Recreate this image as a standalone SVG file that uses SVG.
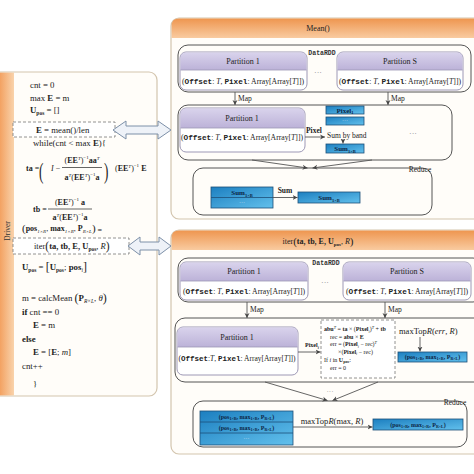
<svg xmlns="http://www.w3.org/2000/svg" width="474" height="474" viewBox="0 0 474 474" style="font-family:'Liberation Serif','Times New Roman',serif;font-size:8px;fill:#222">
<style>
.m{font-family:"Liberation Mono","Courier New",monospace;font-weight:bold}
.b{font-weight:bold}
.i{font-style:italic}
.mid{text-anchor:middle}
.panel{fill:#fffdf9;stroke:#d3c5ae;stroke-width:1.2}
.rdd{fill:none;stroke:#555;stroke-width:1}
.pbox{fill:#fff;stroke:#9d98b5;stroke-width:1}
.phead{fill:url(#gp);stroke:none}
.blue{fill:url(#gb);stroke:#1d4f78;stroke-width:0.8}
.dash{fill:#fff;stroke:#777;stroke-width:0.8;stroke-dasharray:3,2}
.arr{stroke:#555;stroke-width:0.9;fill:none;marker-end:url(#ah)}
.dbl{fill:#eef2f8;stroke:#7d90a8;stroke-width:1}
.bt{fill:#0b2545;font-weight:bold}
.dots{fill:#888}
</style>
<defs>
<linearGradient id="go" x1="0" y1="0" x2="0" y2="1"><stop offset="0" stop-color="#ee9650"/><stop offset="1" stop-color="#f9cba0"/></linearGradient>
<linearGradient id="gd" x1="0" y1="0" x2="1" y2="0"><stop offset="0" stop-color="#f3a262"/><stop offset="1" stop-color="#f9d3ac"/></linearGradient>
<linearGradient id="gp" x1="0" y1="0" x2="0" y2="1"><stop offset="0" stop-color="#d9d3ec"/><stop offset="1" stop-color="#bcb2d8"/></linearGradient>
<linearGradient id="gb" x1="0" y1="0" x2="1" y2="1"><stop offset="0" stop-color="#1c7fc0"/><stop offset="1" stop-color="#62c0ec"/></linearGradient>
<marker id="ah" markerWidth="6" markerHeight="6" refX="5" refY="3" orient="auto" markerUnits="userSpaceOnUse"><path d="M0,0.5 L5,3 L0,5.5 L1.5,3 Z" fill="#444"/></marker>
</defs>

<!-- Driver panel -->
<g id="driver" font-size="8.8">
<rect x="-10" y="72" width="167" height="324" rx="8" class="panel"/>
<rect x="0" y="72.6" width="14" height="322.8" fill="url(#gd)"/>
<text transform="translate(9.5,231) rotate(-90)" class="mid" font-size="7.5" fill="#333">Driver</text>
<text x="30" y="88">cnt = 0</text>
<text x="30" y="101">max <tspan class="b">E</tspan> = m</text>
<text x="30" y="113"><tspan class="b">U</tspan><tspan class="b" font-size="5.5" dy="2">pos</tspan><tspan dy="-2"> = []</tspan></text>
<rect x="13" y="122" width="102" height="15" class="dash"/>
<text x="36" y="132.5"><tspan class="b">E</tspan> = mean()/len</text>
<text x="33" y="145.5">while(cnt &lt; max <tspan class="b">E</tspan>){</text>
<!-- ta -->
<text x="26" y="171" font-size="8"><tspan class="b">ta</tspan> =</text>
<text x="39" y="179" font-size="24" transform="translate(39,0) scale(0.55,1) translate(-39,0)">(</text>
<text x="51" y="171" font-size="8"><tspan class="i">I</tspan> −</text>
<text x="82" y="163" class="mid" font-size="8">(<tspan class="b">EE</tspan><tspan font-size="5" dy="-3" class="i">T</tspan><tspan dy="3">)</tspan><tspan font-size="5" dy="-4">−1</tspan><tspan dy="4" class="b">aa</tspan><tspan font-size="5" dy="-3" class="i">T</tspan></text>
<line x1="62" y1="167.5" x2="102" y2="167.5" stroke="#222" stroke-width="0.7"/>
<text x="82" y="180" class="mid" font-size="8"><tspan class="b">a</tspan><tspan font-size="5" dy="-3" class="i">T</tspan><tspan dy="3">(</tspan><tspan class="b">EE</tspan><tspan font-size="5" dy="-3" class="i">T</tspan><tspan dy="3">)</tspan><tspan font-size="5" dy="-4">−1</tspan><tspan dy="4" class="b">a</tspan></text>
<text x="104" y="179" font-size="24" transform="translate(104,0) scale(0.55,1) translate(-104,0)">)</text>
<text x="115" y="171" font-size="8">(<tspan class="b">EE</tspan><tspan font-size="5" dy="-3" class="i">T</tspan><tspan dy="3">)</tspan><tspan font-size="5" dy="-4">−1</tspan><tspan dy="4" class="b"> E</tspan></text>
<!-- tb -->
<text x="33" y="212" font-size="8"><tspan class="b">tb</tspan> =</text>
<text x="70" y="205" class="mid" font-size="8">(<tspan class="b">EE</tspan><tspan font-size="5" dy="-3" class="i">T</tspan><tspan dy="3">)</tspan><tspan font-size="5" dy="-4">−1</tspan><tspan dy="4" class="b"> a</tspan></text>
<line x1="48" y1="209" x2="92" y2="209" stroke="#222" stroke-width="0.7"/>
<text x="70" y="220" class="mid" font-size="8"><tspan class="b">a</tspan><tspan font-size="5" dy="-3" class="i">T</tspan><tspan dy="3">(</tspan><tspan class="b">EE</tspan><tspan font-size="5" dy="-3" class="i">T</tspan><tspan dy="3">)</tspan><tspan font-size="5" dy="-4">−1</tspan><tspan dy="4" class="b">a</tspan></text>
<!-- pos line -->
<text x="22" y="231" font-size="8"><tspan font-size="11" dy="1">(</tspan><tspan class="b" dy="-1">pos</tspan><tspan font-size="5" dy="2" class="i">1×R</tspan><tspan dy="-2">, </tspan><tspan class="b">max</tspan><tspan font-size="5" dy="2" class="i">1×R</tspan><tspan dy="-2">, </tspan><tspan class="b">P</tspan><tspan font-size="5" dy="2" class="i">R×L</tspan><tspan font-size="11" dy="-1">)</tspan><tspan dy="1"> =</tspan></text>
<rect x="13" y="238" width="116" height="16" class="dash"/>
<text x="34" y="249" font-size="8.5">iter<tspan font-size="11.5" dy="1">(</tspan><tspan class="b" dy="-1">ta, tb, E, U</tspan><tspan font-size="5.5" dy="2" class="b">pos</tspan><tspan dy="-2">, </tspan><tspan class="i">R</tspan><tspan font-size="11.5" dy="1">)</tspan></text>
<text x="22" y="270"><tspan class="b">U</tspan><tspan class="b" font-size="5.5" dy="2">pos</tspan><tspan dy="-2"> = </tspan><tspan font-size="12" dy="1">[</tspan><tspan class="b" dy="-1">U</tspan><tspan class="b" font-size="5.5" dy="2">pos</tspan><tspan dy="-2">; </tspan><tspan class="b">pos</tspan><tspan font-size="5.5" dy="2" class="i">i</tspan><tspan font-size="12" dy="-1">]</tspan></text>
<text x="22" y="301">m = calcMean <tspan font-size="12" dy="1">(</tspan><tspan class="b" dy="-1">P</tspan><tspan font-size="5.5" dy="2" class="i">R×L</tspan><tspan dy="-2">, </tspan><tspan class="i">θ</tspan><tspan font-size="12" dy="1">)</tspan></text>
<text x="22" y="315"><tspan class="b">if</tspan> cnt == 0</text>
<text x="33" y="328"><tspan class="b">E</tspan> = m</text>
<text x="22" y="342" class="b">else</text>
<text x="33" y="355"><tspan class="b">E</tspan> = [<tspan class="b">E</tspan>; <tspan class="i">m</tspan>]</text>
<text x="22" y="369">cnt++</text>
<text x="33" y="387">}</text>
</g>

<!-- Mean panel -->
<g id="mean">
<rect x="171" y="18" width="320" height="201" rx="8" class="panel"/>
<path d="M171.6,38 V26 Q171.6,18.6 179,18.6 H474 V38 Z" fill="url(#go)"/>
<text x="318" y="31" class="mid">Mean()</text>
</g>
<g id="mean-datardd">
<rect x="178" y="45" width="293" height="47" rx="10" class="rdd"/>
<text x="322" y="55" class="m mid" font-size="6.5" fill="#333">DataRDD</text>
<text x="318" y="75" class="mid dots">···</text>
</g>
<g id="mean-p1">
<rect x="180" y="52" width="127" height="38" rx="6" class="pbox"/>
<path d="M180.5,70 V58 Q180.5,52.5 186.5,52.5 H300.5 Q306.5,52.5 306.5,58 V70 Z" class="phead"/>
<line x1="180.5" y1="70" x2="306.5" y2="70" stroke="#9d98b5" stroke-width="0.8"/>
<text x="243" y="64" class="mid">Partition 1</text>
<text x="243" y="84" class="mid" font-size="7.7">(<tspan class="m">Offset</tspan>: <tspan class="i">T</tspan>, <tspan class="m">Pixel</tspan>: Array[Array[<tspan class="i">T</tspan>]])</text>
</g>
<g id="mean-ps">
<rect x="337" y="52" width="126" height="38" rx="6" class="pbox"/>
<path d="M337.5,70 V58 Q337.5,52.5 343.5,52.5 H456.5 Q462.5,52.5 462.5,58 V70 Z" class="phead"/>
<line x1="337.5" y1="70" x2="462.5" y2="70" stroke="#9d98b5" stroke-width="0.8"/>
<text x="400" y="64" class="mid">Partition S</text>
<text x="400" y="84" class="mid" font-size="7.7">(<tspan class="m">Offset</tspan>: <tspan class="i">T</tspan>, <tspan class="m">Pixel</tspan>: Array[Array[<tspan class="i">T</tspan>]])</text>
</g>
<g id="mean-map">
<rect x="178" y="105" width="274" height="55" rx="10" class="rdd"/>
<text x="413" y="136" class="mid dots">···</text>
</g>
<g id="mean-mp1">
<rect x="180" y="108" width="125" height="44" rx="6" class="pbox"/>
<path d="M180.5,128 V114 Q180.5,108.5 186.5,108.5 H298.5 Q304.5,108.5 304.5,114 V128 Z" class="phead"/>
<line x1="180.5" y1="128" x2="304.5" y2="128" stroke="#9d98b5" stroke-width="0.8"/>
<text x="242" y="121" class="mid">Partition 1</text>
<text x="242" y="140" class="mid" font-size="7.7">(<tspan class="m">Offset</tspan>: <tspan class="i">T</tspan>, <tspan class="m">Pixel</tspan>: Array[Array[<tspan class="i">T</tspan>]])</text>
</g>
<g id="mean-pixel">
<rect x="326" y="106" width="38" height="8" class="blue"/>
<text x="345" y="112.5" class="mid bt" font-size="7">Pixel<tspan font-size="4.5" dy="1.5">1</tspan></text>
<rect x="326" y="117" width="38" height="8" class="blue"/>
<text x="345" y="123" class="mid" font-size="6" fill="#cde">···</text>
<text x="327" y="138" font-size="7.5">Sum by band</text>
<rect x="326" y="144" width="38" height="9" class="blue"/>
<text x="345" y="151" class="mid bt" font-size="7">Sum<tspan font-size="4.5" dy="1.5">1×B</tspan></text>
</g>
<g id="mean-reduce">
<rect x="193" y="168" width="239" height="47" rx="10" class="rdd"/>
<text x="420" y="172" class="mid" font-size="7.5">Reduce</text>
<rect x="211" y="187" width="62" height="21" class="blue"/>
<line x1="211" y1="197.5" x2="273" y2="197.5" stroke="#1d4f78" stroke-width="0.8"/>
<text x="242" y="195" class="mid bt" font-size="7">Sum<tspan font-size="4.5" dy="1.5">1×B</tspan></text>
<text x="242" y="205" class="mid" font-size="6" fill="#cde">···</text>
<rect x="298" y="192" width="62" height="11" class="blue"/>
<text x="329" y="200" class="mid bt" font-size="7">Sum<tspan font-size="4.5" dy="1.5">1×B</tspan></text>
<text x="285" y="193" class="mid b" font-size="7.5">Sum</text>
</g>

<!-- iter panel -->
<g id="iter">
<rect x="171" y="230" width="320" height="224" rx="8" class="panel"/>
<path d="M171.6,250 V238 Q171.6,230.6 179,230.6 H474 V250 Z" fill="url(#go)"/>
<text x="318" y="243.5" class="mid">iter<tspan font-size="11" dy="1">(</tspan><tspan class="b" dy="-1">ta, tb, E, U</tspan><tspan font-size="5" dy="2" class="b">pos</tspan><tspan dy="-2">, </tspan><tspan class="i">R</tspan><tspan font-size="11" dy="1">)</tspan></text>
</g>
<g id="iter-datardd">
<rect x="178" y="258" width="305" height="44" rx="10" class="rdd"/>
<text x="326" y="265" class="m mid" font-size="6.5" fill="#333">DataRDD</text>
<text x="325" y="285" class="mid dots">···</text>
</g>
<g id="iter-p1">
<rect x="180" y="262" width="128" height="38" rx="6" class="pbox"/>
<path d="M180.5,281 V268 Q180.5,262.5 186.5,262.5 H301.5 Q307.5,262.5 307.5,268 V281 Z" class="phead"/>
<line x1="180.5" y1="281" x2="307.5" y2="281" stroke="#9d98b5" stroke-width="0.8"/>
<text x="244" y="274" class="mid">Partition 1</text>
<text x="244" y="294" class="mid" font-size="7.7">(<tspan class="m">Offset</tspan>: <tspan class="i">T</tspan>, <tspan class="m">Pixel</tspan>: Array[Array[<tspan class="i">T</tspan>]])</text>
</g>
<g id="iter-ps">
<rect x="343" y="262" width="128" height="38" rx="6" class="pbox"/>
<path d="M343.5,281 V268 Q343.5,262.5 349.5,262.5 H464.5 Q470.5,262.5 470.5,268 V281 Z" class="phead"/>
<line x1="343.5" y1="281" x2="470.5" y2="281" stroke="#9d98b5" stroke-width="0.8"/>
<text x="407" y="274" class="mid">Partition S</text>
<text x="407" y="294" class="mid" font-size="7.7">(<tspan class="m">Offset</tspan>: <tspan class="i">T</tspan>, <tspan class="m">Pixel</tspan>: Array[Array[<tspan class="i">T</tspan>]])</text>
</g>
<g id="iter-map">
<rect x="175" y="318" width="310" height="64" rx="10" class="rdd"/>
</g>
<g id="iter-mp1">
<rect x="177" y="327" width="121" height="48" rx="6" class="pbox"/>
<path d="M177.5,347 V333 Q177.5,327.5 183.5,327.5 H291.5 Q297.5,327.5 297.5,333 V347 Z" class="phead"/>
<line x1="177.5" y1="347" x2="297.5" y2="347" stroke="#9d98b5" stroke-width="0.8"/>
<text x="237" y="340" class="mid">Partition 1</text>
<text x="237" y="361" class="mid" font-size="7.5">(<tspan class="m">Offset</tspan>:<tspan class="i">T</tspan>, <tspan class="m">Pixel</tspan>: Array[Array[<tspan class="i">T</tspan>]])</text>
</g>
<g id="iter-calc">
<rect x="321" y="320" width="74" height="58" class="dash"/>
<text x="324" y="331" font-size="6"><tspan class="b">abu</tspan><tspan font-size="4.2" dy="-2" class="i">T</tspan><tspan dy="2"> = </tspan><tspan class="b">ta</tspan> × (<tspan class="b">Pixel</tspan><tspan font-size="4.2" dy="1.5" class="i">i</tspan><tspan dy="-1.5">)</tspan><tspan font-size="4.2" dy="-2" class="i">T</tspan><tspan dy="2"> + </tspan><tspan class="b">tb</tspan></text>
<text x="330" y="338.5" font-size="6">rec = <tspan class="b">abu</tspan> × <tspan class="b">E</tspan></text>
<text x="330" y="346" font-size="6">err = (<tspan class="b">Pixel</tspan><tspan font-size="4.2" dy="1.5" class="i">i</tspan><tspan dy="-1.5"> − rec)</tspan><tspan font-size="4.2" dy="-2" class="i">T</tspan></text>
<text x="338" y="353.5" font-size="6">×(<tspan class="b">Pixel</tspan><tspan font-size="4.2" dy="1.5" class="i">i</tspan><tspan dy="-1.5"> − rec)</tspan></text>
<text x="324" y="361.5" font-size="6">If <tspan class="i">i</tspan> in <tspan class="b">U</tspan><tspan font-size="4.2" dy="1.5" class="b">pos</tspan><tspan dy="-1.5">:</tspan></text>
<text x="330" y="369.5" font-size="6">err = 0</text>
</g>
<g id="iter-top">
<text x="399" y="334" font-size="8.5">maxTop<tspan class="i">R</tspan>(<tspan class="i">err</tspan>, <tspan class="i">R</tspan>)</text>
<rect x="398" y="352" width="69" height="10" class="blue"/>
<text x="432.5" y="359.3" class="mid bt" font-size="6">(pos<tspan font-size="4" dy="1">1×R</tspan><tspan dy="-1">, max</tspan><tspan font-size="4" dy="1">1×R</tspan><tspan dy="-1">, P</tspan><tspan font-size="4" dy="1">R×L</tspan><tspan dy="-1">)</tspan></text>
</g>
<g id="iter-reduce">
<rect x="193" y="401" width="274" height="46" rx="10" class="rdd"/>
<text x="455" y="405" class="mid" font-size="7.5">Reduce</text>
<rect x="200" y="411" width="93" height="34" class="blue"/>
<line x1="200" y1="422" x2="293" y2="422" stroke="#1d4f78" stroke-width="0.8"/>
<line x1="200" y1="433" x2="293" y2="433" stroke="#1d4f78" stroke-width="0.8"/>
<text x="246.5" y="419" class="mid bt" font-size="6">(pos<tspan font-size="4" dy="1">1×R</tspan><tspan dy="-1">, max</tspan><tspan font-size="4" dy="1">1×R</tspan><tspan dy="-1">, P</tspan><tspan font-size="4" dy="1">R×L</tspan><tspan dy="-1">)</tspan></text>
<text x="246.5" y="430" class="mid bt" font-size="6">(pos<tspan font-size="4" dy="1">1×R</tspan><tspan dy="-1">, max</tspan><tspan font-size="4" dy="1">1×R</tspan><tspan dy="-1">, P</tspan><tspan font-size="4" dy="1">R×L</tspan><tspan dy="-1">)</tspan></text>
<text x="246.5" y="441" class="mid" font-size="6" fill="#cde">···</text>
<text x="332" y="424" class="mid" font-size="8.5">maxTop<tspan class="i">R</tspan>(max, <tspan class="i">R</tspan>)</text>
<rect x="373" y="419" width="90" height="11" class="blue"/>
<text x="418" y="427" class="mid bt" font-size="6">(pos<tspan font-size="4" dy="1">1×R</tspan><tspan dy="-1">, max</tspan><tspan font-size="4" dy="1">1×R</tspan><tspan dy="-1">, P</tspan><tspan font-size="4" dy="1">R×L</tspan><tspan dy="-1">)</tspan></text>
</g>

<!-- connectors -->
<g id="connectors">
<path class="dbl" d="M113,130 L126,121 L126,126 L158,126 L158,121 L171,130 L158,139 L158,134 L126,134 L126,139 Z"/>
<path class="dbl" d="M128,246 L140,237 L140,242 L159,242 L159,237 L171,246 L159,255 L159,250 L140,250 L140,255 Z"/>
<line x1="235" y1="92" x2="235" y2="105" class="arr"/>
<text x="238" y="101" font-size="7.5">Map</text>
<line x1="388" y1="92" x2="388" y2="105" class="arr"/>
<text x="391" y="101" font-size="7.5">Map</text>
<line x1="305" y1="137" x2="325" y2="137" class="arr"/>
<text x="306" y="133" class="b" font-size="7.5">Pixel</text>
<line x1="343" y1="139" x2="343" y2="143.5" class="arr"/>
<line x1="252" y1="160" x2="307.5" y2="168" class="arr"/>
<line x1="372" y1="160" x2="312.5" y2="168" class="arr"/>
<text x="310" y="163" class="mid dots" font-size="7">···</text>
<line x1="273" y1="197.5" x2="297.5" y2="197.5" class="arr"/>
<line x1="247" y1="302" x2="247" y2="318" class="arr"/>
<text x="250" y="312" font-size="7.5">Map</text>
<line x1="385" y1="302" x2="385" y2="318" class="arr"/>
<text x="388" y="312" font-size="7.5">Map</text>
<line x1="298" y1="352" x2="320.5" y2="352" class="arr"/>
<text x="305" y="347" class="b" font-size="6">Pixel<tspan font-size="4" dy="1.5" class="i">i</tspan></text>
<line x1="420" y1="337" x2="420" y2="351.5" class="arr"/>
<line x1="265" y1="382" x2="327.5" y2="400.5" class="arr"/>
<line x1="378" y1="382" x2="332.5" y2="400.5" class="arr"/>
<text x="330" y="394" class="mid dots" font-size="7">···</text>
<line x1="293" y1="427" x2="372.5" y2="427" class="arr"/>
</g>
</svg>
